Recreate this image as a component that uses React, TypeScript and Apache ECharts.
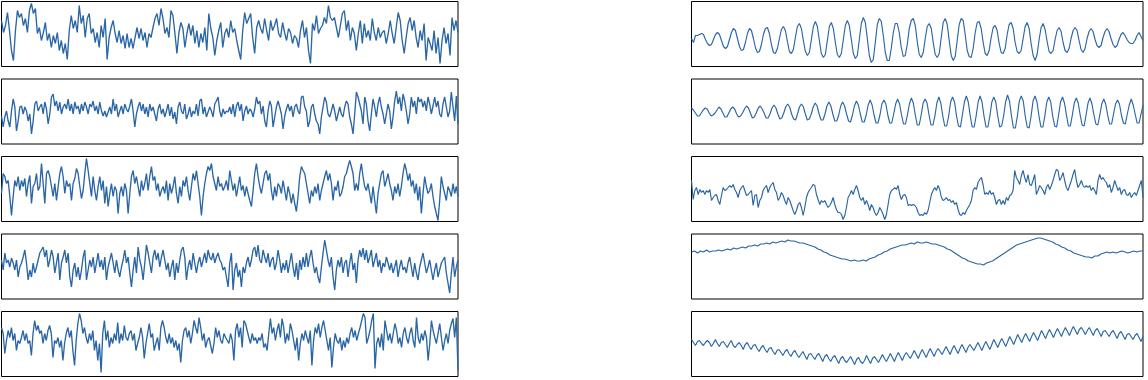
import React, { useEffect, useRef } from "react";
import * as echarts from "echarts";

// Values are heights above the bottom of each panel (panel units 0..65).
const leftSeries1 = [
  46,34,41,54,36,16,6,36,56,49,53,41,48,34,56,63,53,58,33,39,26,34,44,26,33,19,31,23,34,16,26,13,23,7,36,51,38,46,34,61,43,51,29,48,53,33,38,24,34,19,41,29,48,7,29,39,46,33,24,36,23,31,18,33,19,28,18,29,39,28,38,26,34,19,33,29,39,48,53,41,58,48,33,39,29,56,51,33,13,34,44,38,19,33,43,31,41,23,36,19,33,24,39,16,53,38,29,11,26,36,44,19,33,38,29,
  46,34,38,26,16,7,36,54,43,48,53,29,13,39,46,38,33,48,36,26,46,36,41,48,33,29,44,34,26,38,34,23,31,28,19,36,46,29,39,16,3,43,36,51,33,38,41,49,43,61,49,46,49,39,29,41,53,56,36,46,26,39,33,16,33,46,23,43,29,36,26,48,34,26,39,29,34,36,23,33,46,33,23,39,54,46,26,13,29,43,49,36,46,29,19,36,26,43,6,29,23,16,36,13,29,3,26,39,23,33,11,49,36,46,34,
];
const leftSeries2 = [
  28,17,27,33,23,17,33,45,37,13,23,37,38,30,37,33,23,30,10,23,40,43,33,37,40,30,42,35,20,30,47,50,38,43,33,42,30,37,40,35,45,33,40,30,42,35,38,30,40,33,42,37,30,40,37,43,33,38,30,42,33,28,33,27,32,37,30,45,33,40,27,33,38,30,40,35,32,38,45,33,17,30,37,42,33,40,30,37,27,40,33,37,30,23,35,40,30,35,27,33,40,28,37,25,32,20,37,42,33,30,40,25,30,37,27,33,30,40,28,43,45,30,37,27,32,37,33,27,40,43,47,33,27,35,30,33,32,
  37,30,40,27,38,42,33,40,23,33,38,30,35,33,27,35,47,40,43,30,38,23,17,33,43,38,17,27,37,43,37,30,15,28,35,40,33,38,27,37,40,33,30,47,48,37,33,17,23,37,40,30,23,20,10,27,37,47,42,30,27,33,40,33,23,30,37,30,27,37,43,40,27,20,10,30,52,47,40,33,20,47,40,23,13,30,45,37,27,40,47,37,30,20,30,40,33,15,27,43,53,40,47,33,50,43,33,20,30,47,37,43,30,47,42,45,37,43,33,47,40,30,38,47,37,43,30,27,40,47,37,27,33,52,37,23,48,20,
];
const leftSeries3 = [
  28,48,45,38,41,25,6,25,41,35,45,31,41,35,43,25,38,46,18,35,38,48,31,35,58,38,18,48,51,45,35,25,38,21,35,48,55,45,28,41,35,38,21,38,43,53,48,35,23,31,48,63,51,38,25,45,31,21,35,45,31,41,18,35,15,28,38,25,35,31,8,28,35,25,38,31,8,28,45,51,38,45,35,25,41,31,38,48,31,45,55,41,45,31,38,25,31,35,28,41,21,38,28,35,45,28,18,35,25,41,35,45,31,21,35,48,41,51,38,25,6,25,38,48,55,51,58,45,38,31,45,35,38,31,35,41,31,
  51,41,31,38,25,35,45,31,36,25,35,28,21,15,31,48,58,45,35,28,38,48,51,41,48,31,21,35,25,38,35,28,41,31,21,35,28,18,28,18,10,25,45,55,51,48,38,28,18,31,25,35,28,38,21,31,38,45,51,41,48,38,21,35,31,41,25,28,35,45,48,55,61,55,48,31,38,31,48,58,45,35,31,38,28,18,35,21,8,28,38,48,51,35,41,48,38,31,21,35,28,38,25,35,48,58,51,41,48,35,41,28,38,21,35,8,28,45,35,28,31,38,25,15,8,1,21,45,35,28,21,35,31,25,38,28,35,25,
];
const leftSeries4 = [
  39,29,46,36,39,32,41,36,29,39,22,32,36,42,49,36,19,29,22,36,26,32,39,46,49,52,42,49,32,39,49,42,26,36,46,19,36,42,49,36,46,22,12,29,36,22,32,19,29,42,49,19,29,39,32,42,26,36,46,32,39,29,42,19,32,39,46,36,26,39,29,22,32,39,49,36,42,26,12,29,42,26,52,39,32,19,36,54,46,36,26,42,49,39,46,32,42,49,39,29,36,22,32,39,19,36,26,39,49,52,42,19,32,39,29,46,36,26,36,42,32,39,46,36,49,42,39,46,36,42,46,39,36,29,32,22,12,
  36,46,9,29,36,22,29,12,32,26,36,42,32,39,49,52,42,54,39,36,49,42,36,46,32,39,42,29,36,49,39,26,36,29,39,26,36,46,32,22,36,19,39,29,42,32,46,32,42,49,36,26,32,22,16,32,46,59,49,39,32,42,22,9,29,39,32,42,26,36,39,22,36,46,29,36,16,39,49,42,51,39,49,36,42,49,32,39,46,32,39,26,36,32,42,36,29,36,26,32,39,22,32,39,29,32,26,36,42,32,22,36,26,19,32,39,46,36,26,32,39,29,19,29,36,22,29,36,39,42,26,16,6,26,42,22,32,39,
];
const leftSeries5 = [
  49,43,23,36,46,39,49,36,43,26,36,33,39,46,36,43,33,36,21,43,56,46,51,43,46,33,43,36,46,51,43,19,36,33,39,29,36,16,33,43,49,39,46,26,11,36,53,63,56,43,49,39,33,43,36,46,26,36,16,33,4,43,56,36,46,29,39,33,43,36,54,33,43,36,51,39,36,43,46,36,43,26,33,39,49,39,18,33,43,53,39,43,26,33,39,26,49,56,49,39,33,43,33,39,29,36,26,33,14,36,46,49,39,46,33,43,56,49,43,59,49,36,43,29,36,39,31,23,33,49,39,46,36,33,43,39,36,33,
  43,36,16,46,53,39,49,29,56,53,46,39,33,43,36,39,33,39,36,43,29,33,26,43,58,43,49,36,46,53,39,58,49,33,43,36,53,46,36,26,39,16,33,43,36,46,39,33,46,11,36,49,43,53,39,49,56,46,36,26,39,9,29,43,36,33,39,26,36,29,39,33,43,49,39,46,36,43,49,56,63,59,33,39,46,56,63,8,33,39,29,43,26,56,46,36,43,33,43,53,46,33,39,29,43,49,39,33,43,49,36,29,59,39,33,43,36,46,39,16,33,56,46,39,33,43,53,39,26,36,43,33,46,53,58,39,59,6,
];

const rightSeries1 = [
  28,24,31,31,32,33,32,27,23,21,22,27,32,34,32,26,20,18,20,27,34,38,36,28,20,16,17,24,33,38,36,28,19,14,15,22,32,38,39,33,22,14,13,18,28,37,40,36,25,15,13,17,29,40,43,38,26,15,11,14,27,40,45,40,26,13,9,12,26,40,44,38,24,12,9,13,27,41,46,41,27,13,8,11,27,43,49,44,28,11,4,7,24,42,48,45,31,14,6,6,18,34,43,43,34,19,10,11,22,38,46,48,41,25,12,9,14,28,40,43,38,24,12,9,13,29,44,48,42,26,11,6,10,26,42,48,46,32,16,10,9,18,34,44,45,38,24,13,11,16,29,39,41,36,23,14,13,18,32,42,44,38,24,15,13,16,28,40,44,38,23,11,6,12,27,39,43,37,25,15,13,16,27,36,39,35,24,16,14,18,28,36,39,36,26,17,14,18,28,35,38,35,27,21,19,21,29,35,38,35,28,22,19,21,27,32,34,31,27,24,23,23,26,31,34,30,26,
];
const rightSeries2 = [
  36,34,31,28,28,31,34, 36,35,31,28,29,31,34, 37,35,31,27,27,31,35, 37,35,30,27,28,31,35,
  38,36,31,26,27,31,36, 38,35,31,26,26,30,36, 39,36,30,25,26,31,37, 40,37,30,25,24,30,37,
  40,37,30,24,25,30,37, 41,38,30,24,24,30,38, 42,38,30,23,23,29,38, 42,38,30,23,22,29,38,
  43,39,30,22,22,29,39, 44,39,29,21,21,29,40, 44,40,29,21,21,30,40, 45,40,29,20,20,29,40,
  46,41,29,19,19,29,41, 45,41,29,19,19,28,41, 47,41,28,18,18,28,42, 47,42,28,18,17,29,42,
  48,42,28,17,17,28,42, 48,42,28,17,17,28,42, 47,42,28,17,18,28,42, 49,43,28,16,16,28,43,
  48,43,28,17,16,28,43, 48,42,28,17,17,28,42, 47,42,28,18,17,29,42, 47,41,29,18,18,29,41,
  46,41,29,19,18,29,41, 46,40,29,20,19,29,40, 45,40,29,20,20,30,40, 44,40,29,21,20,30,39,
  45,39,30,21,21,30,39,
];
const rightSeries3 = [
  41,22,31,34,27,32,29,31,27,31,29,32,21,24,26,27,21,17,26,34,31,32,34,36,34,37,32,29,24,31,34,36,31,26,27,29,31,16,26,27,14,21,24,31,34,36,29,34,37,39,32,29,21,24,29,26,21,17,24,21,16,11,7,11,17,19,14,6,14,24,29,32,34,37,36,27,22,17,21,19,21,17,14,16,19,24,17,12,9,9,7,2,6,14,24,27,31,27,32,36,31,24,21,24,17,21,17,11,17,14,9,6,9,14,11,7,2,7,17,27,31,32,34,32,36,27,22,26,27,24,16,17,16,17,16,14,9,6,7,6,9,7,11,19,27,31,34,31,36,32,24,21,22,24,21,22,19,21,17,19,12,7,6,9,7,11,14,17,21,31,34,32,39,42,44,37,27,29,27,31,27,29,24,17,21,22,17,21,17,24,21,26,27,31,51,44,41,37,46,51,44,39,47,37,36,41,47,27,31,36,34,31,27,34,37,32,36,41,47,52,51,41,44,49,41,34,31,36,41,47,52,41,34,37,41,36,34,36,34,36,31,34,31,27,41,47,42,44,41,39,34,37,29,34,41,36,31,34,27,31,32,27,26,29,24,27,29,26,31,36,41,24,
];
const rightSeries4 = [
  47,48,46,48,47,49,47,48,48,49, 48,49,50,49,51,50,51,52,51,53, 53,54,53,55,55,56,55,57,56,57,
  58,57,59,58,58,57,56,56,55,54, 53,52,50,49,47,46,44,43,42,41, 40,40,39,38,39,38,38,39,38,40,
  41,42,44,45,47,48,50,51,52,53, 54,54,55,56,55,57,56,56,57,56, 55,55,54,53,52,50,49,47,45,43,
  41,40,38,37,36,35,35,34,36,37, 38,40,42,44,46,48,50,52,54,55, 56,57,58,59,60,61,61,60,59,58,
  57,55,54,52,51,49,48,46,45,44, 43,42,42,41,43,43,45,46,47,46, 47,46,47,48,47,46,47,48,47,48, 48,
];
const rightSeries5 = [
  37,34,31,35, 36,33,31,34, 36,34,30,33, 37,33,30,34, 35,32,29,33, 36,31,29,32,
  34,31,27,32, 34,30,27,31, 32,28,25,29, 31,27,24,28, 29,25,22,26, 27,24,21,25,
  27,23,20,24, 26,22,19,22, 25,21,17,22, 23,20,17,21, 23,19,15,20, 22,18,15,19,
  21,17,13,18, 20,16,14,17, 20,16,12,17, 19,15,13,16, 21,17,13,18, 20,17,14,18,
  22,18,15,19, 23,19,15,20, 24,20,16,21, 24,21,18,22, 26,22,18,23, 27,23,19,24,
  28,24,20,25, 28,25,22,26, 30,26,22,27, 31,27,23,28, 32,28,24,29, 32,29,26,30,
  34,30,26,31, 35,31,27,32, 37,33,29,34, 38,34,30,35, 40,36,32,37, 42,38,34,39,
  43,39,35,40, 44,40,36,41, 46,42,38,43, 47,43,39,44, 48,44,40,45, 49,45,41,46,
  50,46,42,47, 49,46,42,46, 49,45,41,46, 48,44,40,45, 46,43,40,44, 46,42,38,43,
  45,41,37,42, 43,40,37,41, 43,39,35,40,
];

const leftColumn = [leftSeries1, leftSeries2, leftSeries3, leftSeries4, leftSeries5];
const rightColumn = [rightSeries1, rightSeries2, rightSeries3, rightSeries4, rightSeries5];

const LINE_COLOR = "#2a66a5";

export default function App() {
  const ref = useRef<HTMLDivElement>(null);
  useEffect(() => {
    if (!ref.current) return;
    const chart = echarts.init(ref.current, null, { renderer: "svg" });
    const columns = [
      { left: 1.5, width: 456.5, data: leftColumn, lw: 1.35 },
      { left: 691.5, width: 451.5, data: rightColumn, lw: 1.15 },
    ];
    const tops = [1.5, 79, 156.5, 234, 311.5];
    const grid: any[] = [];
    const xAxis: any[] = [];
    const yAxis: any[] = [];
    const series: any[] = [];
    columns.forEach((col) => {
      col.data.forEach((values, r) => {
        const idx = grid.length;
        grid.push({
          left: col.left,
          top: tops[r],
          width: col.width,
          height: 65,
          show: true,
          borderColor: "#000",
          borderWidth: 1,
          backgroundColor: "transparent",
          containLabel: false,
        });
        xAxis.push({
          type: "category",
          gridIndex: idx,
          data: values.map((_, i) => i),
          boundaryGap: false,
          show: false,
        });
        yAxis.push({ type: "value", gridIndex: idx, min: 0, max: 65, show: false });
        series.push({
          type: "line",
          xAxisIndex: idx,
          yAxisIndex: idx,
          data: values,
          symbol: "none",
          showSymbol: false,
          silent: true,
          lineStyle: { color: LINE_COLOR, width: col.lw },
        });
      });
    });
    chart.setOption({ animation: false, grid, xAxis, yAxis, series });
    return () => chart.dispose();
  }, []);
  return (
    <div
      ref={ref}
      style={{ position: "absolute", left: 0, top: 0, width: 1148, height: 380 }}
    />
  );
}
